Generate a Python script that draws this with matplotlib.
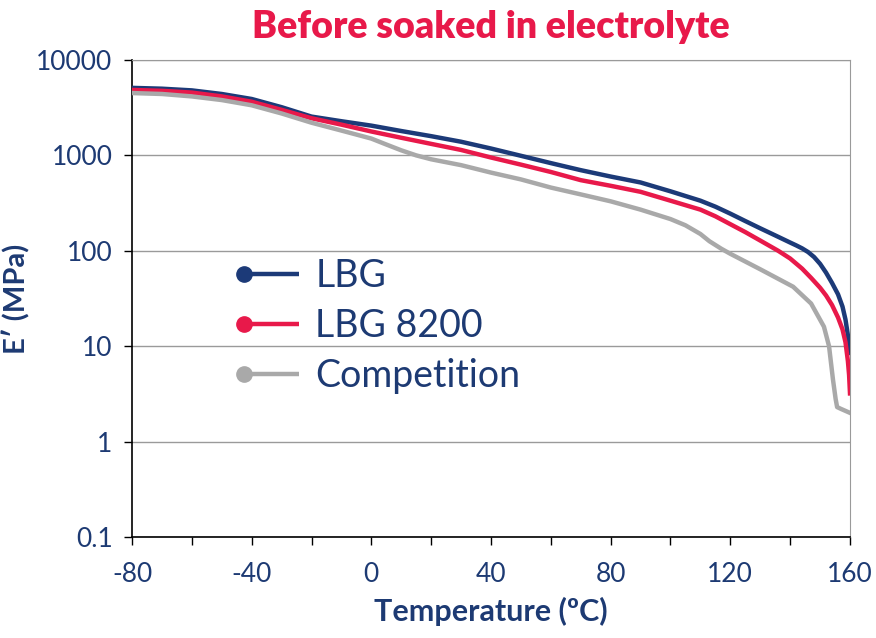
import matplotlib
matplotlib.use("Agg")
import matplotlib.pyplot as plt
from matplotlib.lines import Line2D
from matplotlib.legend_handler import HandlerBase

# E' (MPa), temperature in degC
temp_lbg = [-80, -70, -60, -50, -40, -30, -20, -10, 0, 10, 20, 30, 40, 50, 60,
            70, 80, 90, 100, 110, 115, 120, 125, 130, 135, 140, 142, 144, 146,
            148, 150, 152, 154, 156, 157.5, 158.5, 159.3, 160]
e_lbg = [5100, 5000, 4800, 4400, 3900, 3200, 2550, 2280, 2050, 1800, 1590, 1390,
         1180, 990, 830, 700, 600, 520, 420, 335, 290, 245, 205, 172, 145, 122,
         114, 106, 97, 86, 73, 59, 46, 35, 26, 19, 13, 8.5]

temp_8200 = [-80, -70, -60, -50, -40, -30, -20, -10, 0, 10, 20, 30, 40, 50, 60,
             70, 80, 90, 100, 110, 115, 120, 125, 130, 136, 140, 144, 147, 150,
             152, 154, 156, 157.5, 158.5, 159.3, 159.7, 160]
e_8200 = [4850, 4750, 4550, 4150, 3650, 3000, 2450, 2100, 1780, 1530, 1320, 1140,
          950, 800, 670, 550, 480, 415, 335, 270, 230, 190, 157, 128, 100, 83, 65,
          52, 41, 34, 27, 20, 15, 11, 7, 5, 3.2]

temp_comp = [-80, -70, -60, -50, -40, -30, -20, -10, 0, 5, 10, 15, 20, 30, 40,
             50, 60, 70, 80, 90, 100, 105, 110, 113, 117, 120, 130, 141, 147,
             151.3, 153, 154.3, 155.2, 155.7, 157, 160]
e_comp = [4500, 4400, 4150, 3800, 3350, 2750, 2200, 1820, 1500, 1300, 1130, 1000,
          910, 790, 660, 560, 460, 390, 330, 270, 215, 185, 150, 126, 105, 93, 64,
          42, 28, 16, 10, 4.5, 2.8, 2.3, 2.2, 2.0]

series_names = ["LBG", "LBG 8200", "Competition"]
x_ticks = [-80, -60, -40, -20, 0, 20, 40, 60, 80, 100, 120, 140, 160]
x_tick_labels = ["-80", "", "-40", "", "0", "", "40", "", "80", "", "120", "", "160"]
y_ticks = [0.1, 1, 10, 100, 1000, 10000]
y_tick_labels = ["0.1", "1", "10", "100", "1000", "10000"]

NAVY = "#1c3a78"
RED = "#e8194a"
GREY = "#a9a9a9"
TEXT = "#1d3a73"

plt.rcParams["font.family"] = ["Lato", "DejaVu Sans"]


class DotLineHandler(HandlerBase):
    """Legend key: line with a dot at its left end."""

    def create_artists(self, legend, orig_handle, xdescent, ydescent,
                       width, height, fontsize, trans):
        y = height / 2 - ydescent
        color = orig_handle.get_color()
        line = Line2D([-xdescent, width - xdescent], [y, y], color=color,
                      lw=orig_handle.get_linewidth(), solid_capstyle="butt")
        dot = Line2D([-xdescent], [y], marker="o", ms=11, color=color, lw=0)
        line.set_transform(trans)
        dot.set_transform(trans)
        return [line, dot]


fig = plt.figure(figsize=(8.76, 6.38), dpi=100)
ax = fig.add_axes([0.1507, 0.1583, 0.8196, 0.7477])

lines = []
for xs, ys, c, name in [(temp_lbg, e_lbg, NAVY, series_names[0]),
                        (temp_8200, e_8200, RED, series_names[1]),
                        (temp_comp, e_comp, GREY, series_names[2])]:
    ln, = ax.plot(xs, ys, color=c, lw=3.2, label=name, zorder=3)
    lines.append(ln)

ax.set_yscale("log")
ax.set_xlim(-80, 160)
ax.set_ylim(0.1, 10000)
ax.set_yticks(y_ticks)
ax.set_yticklabels(y_tick_labels)
ax.minorticks_off()
ax.set_xticks(x_ticks)
ax.set_xticklabels(x_tick_labels)

ax.yaxis.grid(True, color="#9a9a9a", lw=1.0)
ax.set_axisbelow(True)
for side in ["top", "right"]:
    ax.spines[side].set_color("#9a9a9a")
for side in ["left", "bottom"]:
    ax.spines[side].set_color("black")
    ax.spines[side].set_linewidth(1.2)

ax.tick_params(axis="both", direction="out", length=6, width=1.0,
               colors="black", labelcolor=TEXT, labelsize=19)
ax.tick_params(axis="y", pad=8)
ax.tick_params(axis="x", pad=12)

ax.set_xlabel("Temperature (ºC)", fontsize=22, fontweight="bold", color=TEXT)
ax.xaxis.set_label_coords(0.5, -0.125)
ax.set_ylabel("E′ (MPa)", fontsize=21, fontweight="bold", color=TEXT)
ax.yaxis.set_label_coords(-0.142, 0.5)
fig.suptitle("Before soaked in electrolyte", x=0.56, y=0.985, fontsize=27,
             fontweight="heavy", color=RED)

leg = ax.legend(handles=lines, loc="center left", bbox_to_anchor=(0.13, 0.442),
                frameon=False, fontsize=27, handlelength=1.47,
                handletextpad=0.43, labelspacing=0.38, borderpad=0,
                handler_map={Line2D: DotLineHandler()})
for t in leg.get_texts():
    t.set_color(TEXT)

fig.savefig("out.png", dpi=100)
